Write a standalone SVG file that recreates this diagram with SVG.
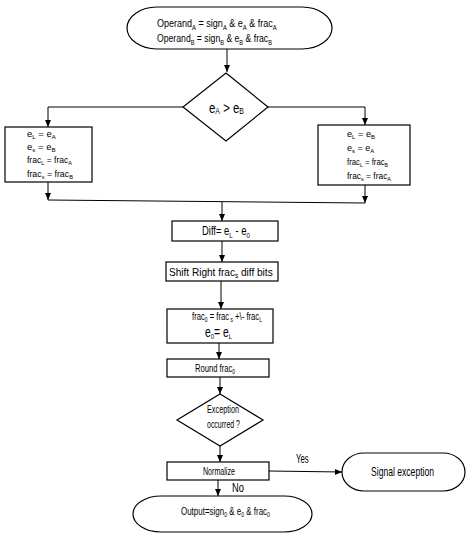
<svg xmlns="http://www.w3.org/2000/svg" width="474" height="541" viewBox="0 0 474 541">
<style>
.shape{fill:#fff;stroke:#000;stroke-width:1.2}
.conn{fill:none;stroke:#000;stroke-width:1}
text{font-family:"Liberation Sans","DejaVu Sans",sans-serif;fill:#000}
.s9{font-size:9.5px}
.s11{font-size:11px}
.sub{font-size:65%}
</style>
<defs>
<marker id="arr" markerWidth="8" markerHeight="8" refX="7" refY="4" orient="auto" markerUnits="userSpaceOnUse">
<path d="M0,1 L7,4 L0,7 Z" fill="#000"/>
</marker>
</defs>
<rect width="474" height="541" fill="#fff"/>
<g id="connectors" class="conn">
<path d="M227,49 V72" marker-end="url(#arr)"/>
<path d="M183,107 H48 V127" marker-end="url(#arr)"/>
<path d="M268,107 H365 V125" marker-end="url(#arr)"/>
<path d="M48,182 V200" marker-end="url(#arr)"/>
<path d="M365,185 V203" marker-end="url(#arr)"/>
<path d="M48,200 L365,203"/>
<path d="M222,202 V221" marker-end="url(#arr)"/>
<path d="M222,241 V262" marker-end="url(#arr)"/>
<path d="M221,281 V309" marker-end="url(#arr)"/>
<path d="M219,343 V359" marker-end="url(#arr)"/>
<path d="M220,377 V394" marker-end="url(#arr)"/>
<path d="M220,446 V462" marker-end="url(#arr)"/>
<path d="M218,480 V496" marker-end="url(#arr)"/>
<path d="M269,471 L342,472" marker-end="url(#arr)"/>
</g>
<g id="start">
<rect class="shape" x="127" y="7" width="205" height="42" rx="30" ry="21"/>
<text class="s11" transform="translate(157 27) scale(0.822 1)">Operand<tspan class="sub" dy="2.5">A</tspan><tspan dy="-2.5"> = sign</tspan><tspan class="sub" dy="2.5">A</tspan><tspan dy="-2.5"> &amp; e</tspan><tspan class="sub" dy="2.5">A</tspan><tspan dy="-2.5"> &amp; frac</tspan><tspan class="sub" dy="2.5">A</tspan></text>
<text class="s11" transform="translate(157 42) scale(0.788 1)">Operand<tspan class="sub" dy="2.5">B</tspan><tspan dy="-2.5"> = sign</tspan><tspan class="sub" dy="2.5">B</tspan><tspan dy="-2.5"> &amp; e</tspan><tspan class="sub" dy="2.5">B</tspan><tspan dy="-2.5"> &amp; frac</tspan><tspan class="sub" dy="2.5">B</tspan></text>
</g>
<g id="compare">
<polygon class="shape" points="226,73 268,107 226,141 183,107"/>
<text font-size="15" transform="translate(209 113) scale(0.764 1)">e<tspan font-size="9" dy="1">A</tspan><tspan dy="-1"> &gt; e</tspan><tspan font-size="9" dy="1">B</tspan></text>
</g>
<g id="left-assign">
<rect class="shape" x="5" y="127" width="87" height="55"/>
<text class="s9" transform="translate(27 137)">e<tspan class="sub" dy="2">L</tspan><tspan dy="-2"> = e</tspan><tspan class="sub" dy="2">A</tspan></text>
<text class="s9" transform="translate(27 150)">e<tspan class="sub" dy="2">s</tspan><tspan dy="-2"> = e</tspan><tspan class="sub" dy="2">B</tspan></text>
<text class="s9" transform="translate(27 163) scale(0.9 1)">frac<tspan class="sub" dy="2">L</tspan><tspan dy="-2"> = frac</tspan><tspan class="sub" dy="2">A</tspan></text>
<text class="s9" transform="translate(27 177) scale(0.925 1)">frac<tspan class="sub" dy="2">s</tspan><tspan dy="-2"> = frac</tspan><tspan class="sub" dy="2">B</tspan></text>
</g>
<g id="right-assign">
<rect class="shape" x="318" y="125" width="92" height="60"/>
<text class="s9" transform="translate(347 137) scale(0.97 1)">e<tspan class="sub" dy="2">L</tspan><tspan dy="-2"> = e</tspan><tspan class="sub" dy="2">B</tspan></text>
<text class="s9" transform="translate(347 151) scale(0.95 1)">e<tspan class="sub" dy="2">s</tspan><tspan dy="-2"> = e</tspan><tspan class="sub" dy="2">A</tspan></text>
<text class="s9" transform="translate(347 165) scale(0.82 1)">frac<tspan class="sub" dy="2">L</tspan><tspan dy="-2"> = frac</tspan><tspan class="sub" dy="2">B</tspan></text>
<text class="s9" transform="translate(347 179) scale(0.885 1)">frac<tspan class="sub" dy="2">s</tspan><tspan dy="-2"> = frac</tspan><tspan class="sub" dy="2">A</tspan></text>
</g>
<g id="diff">
<rect class="shape" x="172" y="221" width="106" height="20"/>
<text font-size="12" transform="translate(202 235) scale(0.787 1)">Diff= e<tspan class="sub" dy="2.5">L</tspan><tspan dy="-2.5"> - e</tspan><tspan class="sub" dy="2.5">0</tspan></text>
</g>
<g id="shift">
<rect class="shape" x="166" y="262" width="112" height="19"/>
<text class="s11" transform="translate(169 276) scale(0.915 1)">Shift Right frac<tspan class="sub" dy="2">s</tspan><tspan dy="-2"> diff bits</tspan></text>
</g>
<g id="add">
<rect class="shape" x="167" y="309" width="106" height="34"/>
<text font-size="10" transform="translate(192 320) scale(0.768 1)">frac<tspan class="sub" dy="2">0</tspan><tspan dy="-2"> = frac</tspan><tspan class="sub" dy="2"> s</tspan><tspan dy="-2"> +\- frac</tspan><tspan class="sub" dy="2">L</tspan></text>
<text font-size="14" transform="translate(205 337) scale(0.74 1)">e<tspan font-size="8" dy="2">0</tspan><tspan dy="-2">= e</tspan><tspan font-size="8" dy="2">L</tspan></text>
</g>
<g id="round">
<rect class="shape" x="167" y="359" width="102" height="18"/>
<text font-size="10" transform="translate(195 372) scale(0.762 1)">Round frac<tspan class="sub" dy="2">0</tspan></text>
</g>
<g id="exception">
<polygon class="shape" points="220,394 263,420 220,446 177,420"/>
<text font-size="10" transform="translate(207 413) scale(0.729 1)">Exception</text>
<text font-size="10" transform="translate(207 428) scale(0.699 1)">occurred ?</text>
</g>
<g id="normalize">
<rect class="shape" x="167" y="462" width="102" height="18"/>
<text font-size="10" transform="translate(203 475) scale(0.711 1)">Normalize</text>
</g>
<g id="signal">
<rect class="shape" x="342" y="453" width="123" height="38" rx="22" ry="19"/>
<text font-size="12.5" transform="translate(371 476) scale(0.687 1)">Signal exception</text>
</g>
<g id="output">
<rect class="shape" x="133" y="496" width="179" height="36" rx="28" ry="18"/>
<text font-size="10" transform="translate(181 515) scale(0.797 1)">Output=sign<tspan class="sub" dy="2">0</tspan><tspan dy="-2"> &amp; e</tspan><tspan class="sub" dy="2">0</tspan><tspan dy="-2"> &amp; frac</tspan><tspan class="sub" dy="2">0</tspan></text>
</g>
<g id="labels">
<text font-size="12" transform="translate(296 463) scale(0.65 1)">Yes</text>
<text font-size="12" transform="translate(232 492) scale(0.78 1)">No</text>
</g>
</svg>
